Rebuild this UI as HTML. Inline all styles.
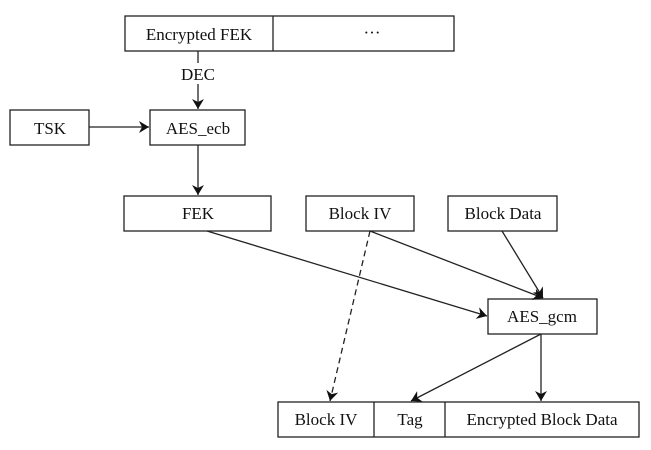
<!DOCTYPE html>
<html><head><style>body{margin:0;background:#fff}</style></head><body>
<svg width="651" height="445" xmlns="http://www.w3.org/2000/svg" font-family="Liberation Serif, serif" font-size="17" fill="none" stroke="#222" stroke-width="1.3">
<defs><marker id="a" markerWidth="10" markerHeight="12" refX="10" refY="6" orient="auto" markerUnits="userSpaceOnUse"><path d="M0,0 L10,6 L0,12 L3,6 z" fill="#111" stroke="none"/></marker></defs>
<rect x="125" y="16" width="329" height="35"/><line x1="273" y1="16" x2="273" y2="51"/>
<rect x="10" y="110" width="79" height="35"/><rect x="150" y="110" width="95" height="35"/>
<rect x="124" y="196" width="147" height="35"/><rect x="306" y="196" width="108" height="35"/><rect x="448" y="196" width="109" height="35"/>
<rect x="488" y="299" width="109" height="35"/>
<rect x="278" y="402" width="361" height="35"/><line x1="374" y1="402" x2="374" y2="437"/><line x1="445" y1="402" x2="445" y2="437"/>
<line x1="198" y1="51" x2="198" y2="63"/><line x1="198" y1="84" x2="198" y2="109" marker-end="url(#a)"/>
<line x1="89" y1="127" x2="149" y2="127" marker-end="url(#a)"/>
<line x1="198" y1="145" x2="198" y2="195" marker-end="url(#a)"/>
<line x1="207" y1="231" x2="487" y2="316" marker-end="url(#a)"/>
<line x1="370" y1="231" x2="543" y2="298" marker-end="url(#a)"/>
<line x1="502" y1="231" x2="543" y2="298" marker-end="url(#a)"/>
<line x1="370" y1="231" x2="330" y2="401" stroke-dasharray="6,4" marker-end="url(#a)"/>
<line x1="541" y1="334" x2="411" y2="401" marker-end="url(#a)"/>
<line x1="541" y1="334" x2="541" y2="401" marker-end="url(#a)"/>
<g fill="#111" stroke="none" text-anchor="middle">
<text x="199" y="40">Encrypted FEK</text><text x="372" y="38">···</text>
<text x="198" y="80">DEC</text>
<text x="50" y="134">TSK</text><text x="198" y="134">AES_ecb</text>
<text x="198" y="219">FEK</text><text x="360" y="219">Block IV</text><text x="503" y="219">Block Data</text>
<text x="542" y="322">AES_gcm</text>
<text x="326" y="425">Block IV</text><text x="410" y="425">Tag</text><text x="542" y="425">Encrypted Block Data</text>
</g></svg></body></html>
